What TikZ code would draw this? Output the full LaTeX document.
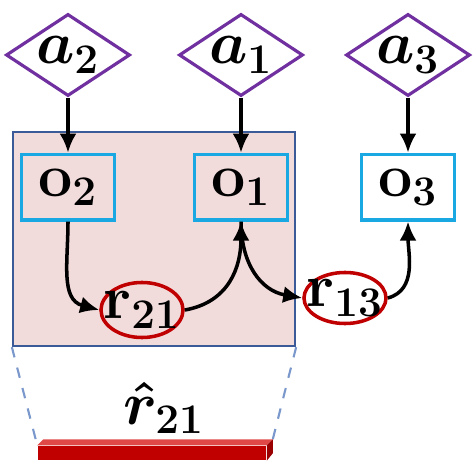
\documentclass[tikz,border=0pt]{standalone}
\usepackage{amsmath,amsfonts,amssymb}
\usepackage{bm}
\usepackage{xcolor}
\usepackage{tikz}
\usetikzlibrary{shapes,arrows.meta,positioning,calc}

\definecolor{actpurple}{HTML}{7030A0}
\definecolor{objblue}{HTML}{1AA8E2}
\definecolor{relred}{HTML}{C00000}
\definecolor{grppink}{HTML}{F2DCDB}
\definecolor{grpblue}{HTML}{3A5A98}
\definecolor{dashblue}{HTML}{7B98CC}
\definecolor{barred}{HTML}{C00000}
\definecolor{bartop}{HTML}{E04848}
\definecolor{barside}{HTML}{9A0000}

\begin{document}
\begin{tikzpicture}[x=0.01cm, y=-0.01cm, node distance=1.32cm, font=\fontsize{17}{20}\selectfont,
    act/.style={draw=actpurple, diamond, aspect=1.5, line width=0.9pt, minimum width=1.24cm, minimum height=0.82cm, inner sep=0pt, fill=white},
    obj/.style={draw=objblue, rectangle, line width=1.1pt, minimum width=0.93cm, minimum height=0.65cm, inner sep=0pt},
    rel/.style={draw=relred, ellipse, line width=1pt, minimum width=0.82cm, minimum height=0.55cm, inner sep=0pt},
    flow/.style={-{Latex[length=1.9mm,width=1.7mm]}, line width=1pt}]
                \useasboundingbox (0,0) rectangle (474,474);

                % shaded group around o2, o1, r21
                \node[draw=grpblue, fill=grppink, line width=0.6pt, minimum width=2.82cm, minimum height=2.14cm] (grp) at (154,239) {};

                \node[act] (a2) at (68,55) {$\bm{a}_{\mathbf{2}}$};
                \node[act] (a1) at (241,55) {$\bm{a}_{\mathbf{1}}$};
                \node[act] (a3) at (408,55) {$\bm{a}_{\mathbf{3}}$};
                \node[obj, fill=grppink, below of=a2] (o2) {$\mathbf{o}_{\mathbf{2}}$};
                \node[obj, fill=grppink, below of=a1] (o1) {$\mathbf{o}_{\mathbf{1}}$};
                \node[obj, fill=white, below of=a3] (o3) {$\mathbf{o}_{\mathbf{3}}$};
                \node[rel, label={center:$\mathbf{r}_{\mathbf{21}}$}] (r21) at (142,310) {};
                \node[rel, fill=white, minimum height=0.51cm, label={center:$\mathbf{r}_{\mathbf{13}}$}] (r13) at (345,298) {};

                % embedding bar
                \node[fill=barred, minimum width=2.28cm, minimum height=0.14cm, inner sep=0pt] (bar) at (152,453) {};
                \fill[bartop] (bar.north west) -- ++(6,-6) -- ($(bar.north east)+(6,-6)$) -- (bar.north east) -- cycle;
                \fill[barside] (bar.north east) -- ++(6,-6) -- ++(0,14) -- (bar.south east) -- cycle;
                \coordinate (barback) at ($(bar.north east)+(6,-6)$);
                \node (rhat) at (164,408) {$\bm{\hat{r}}_{\mathbf{21}}$};

                \draw[dashed, dashblue, line width=0.6pt] (grp.south west) -- (bar.north west);
                \draw[dashed, dashblue, line width=0.6pt] (grp.south east) -- (barback);

                \draw[flow] (a2) -- (o2);
                \draw[flow] (a1) -- (o1);
                \draw[flow] (a3) -- (o3);
                \draw[flow] (o2.south) to[out=-90, in=165, looseness=1.1] (r21.west);
                \draw[flow] (r21.east) to[out=10, in=-90, looseness=1.1] (o1.south);
                \draw[flow] (o1.south) to[out=-90, in=170, looseness=1.1] (r13.west);
                \draw[flow] (r13.east) to[out=15, in=-90] (o3.south);
            \end{tikzpicture}
\end{document}
